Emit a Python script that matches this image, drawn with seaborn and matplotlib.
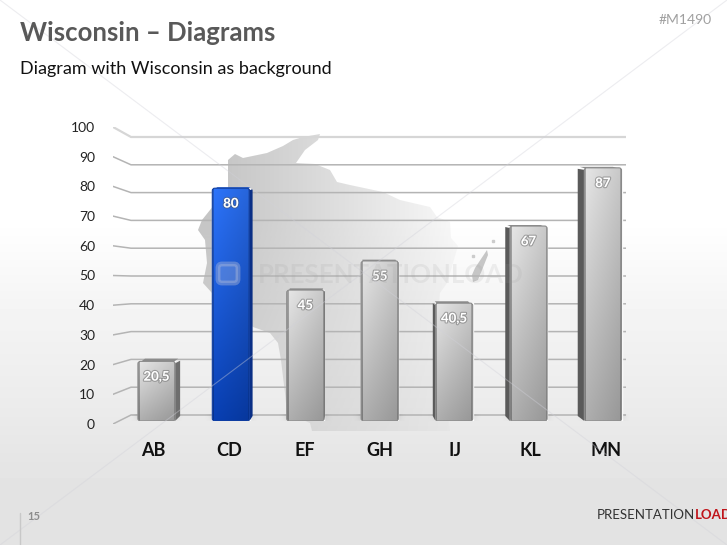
#!/usr/bin/env python3

import numpy as np
import seaborn as sns
import matplotlib.pyplot as plt
import matplotlib.patheffects as pe
from matplotlib.patches import FancyBboxPatch, Polygon
from matplotlib.transforms import IdentityTransform

W, H = 727, 545

categories = ['AB', 'CD', 'EF', 'GH', 'IJ', 'KL', 'MN']
values = [20.5, 80, 45, 55, 40.5, 67, 87]
y_ticks = [0, 10, 20, 30, 40, 50, 60, 70, 80, 90, 100]
highlight = 'CD'

# outline of the state behind the chart, image pixels
map_outline = [
    (228, 160), (235, 154), (243, 158), (267, 153), (283, 146), (293, 140),
    (303, 137), (320, 134), (318, 140), (305, 150), (296, 163), (315, 164),
    (330, 170), (337, 182), (350, 185), (383, 192), (400, 200), (430, 207),
    (437, 217), (450, 222), (451, 238), (458, 246), (453, 263), (447, 283),
    (440, 293), (437, 330), (445, 380), (450, 431), (312, 431), (310, 423),
    (287, 413), (285, 393), (283, 377), (281, 360), (278, 343), (270, 333),
    (253, 327), (212, 293), (203, 283), (207, 263), (205, 240), (198, 230),
    (202, 220), (210, 210), (228, 188),
]
door_outline = [(472, 275), (475, 268), (487, 250), (488, 255), (478, 280), (473, 282)]

sns.set_style('white')
plt.rcParams['font.family'] = ['Lato', 'DejaVu Sans']


def vgrad(stops_y, stops_v):
    return np.interp(np.arange(H), stops_y, stops_v).reshape(-1, 1)


def draw_background(bg):
    bg.set_xlim(0, W)
    bg.set_ylim(H, 0)
    bg.axis('off')
    shade = vgrad([0, 220, 300, 400, 470, 545], [1, 1, .96, .925, .895, .89])
    bg.imshow(shade, cmap='gray', vmin=0, vmax=1, extent=(0, W, H, 0), aspect='auto', zorder=0)

    # state silhouette fades out to the right
    xx, yy = np.meshgrid(np.arange(190, 470), np.arange(125, 440))
    alpha = np.clip(.78 - (xx - 228) * .003, .06, .8) * np.clip(1.15 - (yy - 125) * .0016, 0, 1)
    rgba = np.dstack([np.full_like(alpha, .72)] * 3 + [alpha])
    im = bg.imshow(rgba, extent=(190, 470, 440, 125), aspect='auto', zorder=1)
    clip = Polygon(map_outline, closed=True, transform=bg.transData)
    im.set_clip_path(clip)
    bg.add_patch(Polygon(door_outline, closed=True, fc='#c6c6c6', ec='none', zorder=1))
    bg.plot([473, 493], [256, 241], ls='none', marker='s', ms=1.5, color='#cccccc', zorder=1)
    bg.set_xlim(0, W)
    bg.set_ylim(H, 0)


def draw_wall(wall):
    # labelled front edge of the side wall, lines run back to the rear plane
    wall.set_xlim(113, 626)
    wall.set_ylim(0, 100)
    wall.patch.set_alpha(0)
    sns.despine(ax=wall, left=True, bottom=True)
    for v in y_ticks:
        back = (424 - (415 - 2.78 * v)) / 2.97
        color = '#d6d6d6' if v == 100 else '#b4b4b4'
        wall.plot([113, 131, 626], [v, back, back], color=color,
                  lw=1.6 if v == 100 else 1.1, solid_joinstyle='round')
    wall.set_xticks([])
    wall.set_yticks(y_ticks)
    wall.set_yticklabels([str(v) for v in y_ticks], fontsize=10, color='#222222')
    wall.tick_params(axis='y', length=0, pad=13)


def bar_image(color_top, color_bot, edge):
    # vertical shading times a horizontal sheen
    ny, nx = 90, 40
    t = np.linspace(0, 1, ny).reshape(-1, 1, 1)
    img = np.array(color_top).reshape(1, 1, 3) * (1 - t) + np.array(color_bot).reshape(1, 1, 3) * t
    u = np.linspace(0, 1, nx)
    sheen = 1.04 - .14 * u
    sheen = np.where(u < .05, edge, sheen)
    sheen = np.where(u > .96, edge, sheen)
    return np.clip(img * sheen.reshape(1, -1, 1), 0, 1)


def draw_bars(ax):
    colors = {c: ('#2f6ff0' if c == highlight else '#c4c4c4') for c in categories}
    sns.barplot(x=categories, y=values, hue=categories, palette=colors, legend=False,
                width=.5, saturation=1, ax=ax, zorder=3)
    ax.set_xlim(-.5, 6.5)
    ax.set_ylim(0, 100)
    ax.patch.set_alpha(0)
    ax.figure.canvas.draw()

    for bar, cat, val in zip(ax.patches, categories, values):
        x0, w, h = bar.get_x(), bar.get_width(), bar.get_height()
        xc = x0 + w / 2
        blue = cat == highlight

        # contact shadow on the floor
        u = np.linspace(-1, 1, 80)
        a = np.exp(-(u * 1.9) ** 4)[None, :] * np.linspace(.55, .2, 8)[:, None]
        ax.imshow(np.dstack([np.full_like(a, .35)] * 3 + [a]), aspect='auto', zorder=2,
                  extent=(xc - .46, xc + .46, 0, 2.1), clip_on=False)

        (px0, py0), (px1, py1) = ax.transData.transform([(x0, 0), (x0 + w, h)])
        dx = (350 - (px0 + px1) / 2) * .026
        rise = max(1, 3.5 - val * .04)
        side_x = px1 if dx > 0 else px0
        side_col = '#0a2f85' if blue else ('#6e6e6e' if dx > 0 else '#5a5a5a')
        top_col = '#1d55c8' if blue else '#8c8c8c'
        if abs(dx) > .8:
            ax.add_patch(Polygon([(side_x, py0), (side_x + dx, py0 + 5), (side_x + dx, py1 + rise - 2),
                                  (side_x, py1 - 2)], closed=True, fc=side_col, ec='none',
                                 transform=IdentityTransform(), zorder=3.1))
        ax.add_patch(Polygon([(px0 + 2, py1 - 1), (px0 + 2 + dx, py1 + rise), (px1 - 2 + dx, py1 + rise),
                              (px1 - 2, py1 - 1)], closed=True, fc=top_col, ec='none',
                             transform=IdentityTransform(), zorder=3.1))

        box = FancyBboxPatch((px0, py0), px1 - px0, py1 - py0, boxstyle='round,pad=0,rounding_size=2.5',
                             transform=IdentityTransform(), fc='none',
                             ec='#123f9f' if blue else '#8a8a8a', lw=.8, zorder=3.3)
        ax.add_patch(box)
        if blue:
            img = bar_image((.17, .44, .95), (.03, .24, .68), .8)
        else:
            img = bar_image((.87, .87, .87), (.66, .66, .66), .72)
        im = ax.imshow(img, aspect='auto', extent=(x0, x0 + w, 0, h), zorder=3.2)
        im.set_clip_path(box)
        bar.set_facecolor('none')

        label = f'{val:g}'.replace('.', ',')
        ax.annotate(label, (xc, h), xytext=(0, -11), textcoords='offset points', ha='center', va='center',
                    fontsize=9.5, fontweight='bold', color='white', zorder=4,
                    path_effects=[pe.withStroke(linewidth=1.6, foreground=(.35, .35, .35, .45))])

    ax.set_xlim(-.5, 6.5)
    ax.set_ylim(0, 100)
    ax.set_yticks([])
    ax.set_ylabel('')
    # labels sit on the nearer floor edge so they spread a little more
    ax.set_xticks([i + (i - 3) * .0127 for i in range(len(categories))])
    ax.set_xticklabels(categories, fontsize=13, fontweight='bold', color='#111111')
    ax.tick_params(axis='x', length=0, pad=15)
    sns.despine(ax=ax, left=True, bottom=True)
    ax.grid(False)


def draw_overlay(top):
    top.set_xlim(0, W)
    top.set_ylim(H, 0)
    top.axis('off')
    top.patch.set_alpha(0)

    # watermark and its diagonals lie over everything
    for xs in ([0, W], [W, 0]):
        top.plot(xs, [0, H], color=(.82, .82, .85, .4), lw=.8)
    top.add_patch(FancyBboxPatch((218, 264), 20, 19, boxstyle='round,pad=0,rounding_size=4',
                                 fc=(.75, .8, .9, .28), ec=(.8, .8, .85, .35), lw=3.5))
    top.text(258, 275, 'PRESENTATIONLOAD', fontsize=18.5, fontweight='bold', color=(.6, .6, .6, .14),
             ha='left', va='center')

    top.text(20, 33, 'Wisconsin – Diagrams', fontsize=18.5, fontweight='bold', color='#595959',
             ha='left', va='center')
    top.text(20, 69, 'Diagram with Wisconsin as background', fontsize=13, color='#111111',
             ha='left', va='center')
    top.text(712, 20, '#M1490', fontsize=10, color='#a0a0a0', ha='right', va='center')

    top.plot([19.5, 19.5], [513, H], color='#c8c8c8', lw=1)
    top.text(27, 516, '15', fontsize=8, fontweight='bold', color='#8c8c8c', ha='left', va='center')

    logo = top.text(597, 515, 'PRESENTATION', fontsize=9.5, color='#333333', ha='left', va='center')
    top.annotate('LOAD', xy=(1, .5), xycoords=logo, va='center', fontsize=9.5, fontweight='bold',
                 color='#c0141a')


fig = plt.figure(figsize=(W / 100, H / 100), dpi=100)

bg = fig.add_axes([0, 0, 1, 1], zorder=0)
wall = fig.add_axes([113 / W, (H - 424) / H, (626 - 113) / W, (424 - 127) / H], zorder=1)
ax = fig.add_axes([119.3 / W, (H - 421) / H, 520.8 / W, 291 / H], zorder=2)
top = fig.add_axes([0, 0, 1, 1], zorder=3)

draw_background(bg)
draw_wall(wall)
draw_bars(ax)
draw_overlay(top)

fig.savefig('out.png', dpi=100)
